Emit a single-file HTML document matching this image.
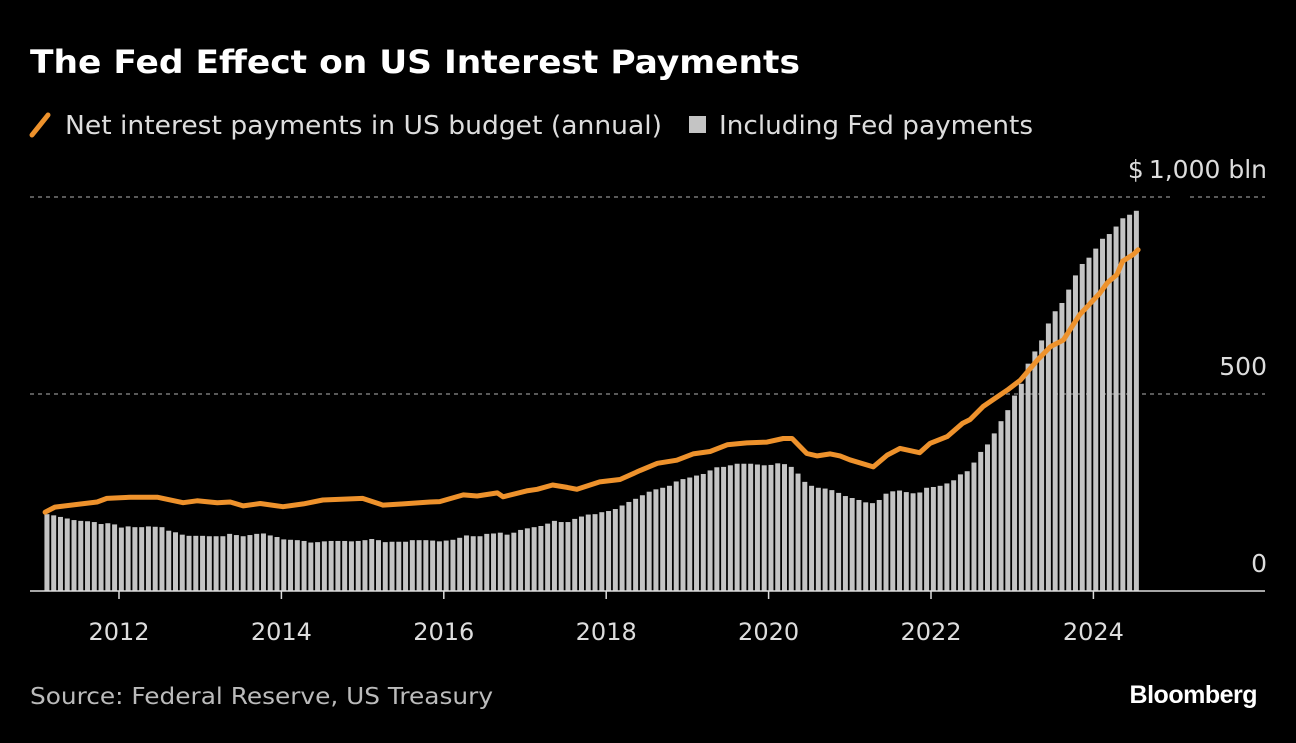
<!DOCTYPE html>
<html><head><meta charset="utf-8"><style>
html,body{margin:0;padding:0;background:#000;}
body{width:1296px;height:738px;overflow:hidden;position:relative;font-family:"Liberation Sans","DejaVu Sans",sans-serif;}
</style></head><body>
<svg id="chart" width="1296" height="738" viewBox="0 0 1296 738" xmlns="http://www.w3.org/2000/svg">
<rect x="0" y="0" width="1296" height="738" fill="#000"/>
<text x="30" y="73" fill="#fff" font-size="32" font-weight="bold" font-family="DejaVu Sans, sans-serif" textLength="770" lengthAdjust="spacingAndGlyphs">The Fed Effect on US Interest Payments</text>
<g>
<g>
<line x1="32" y1="135" x2="48" y2="115" stroke="#ee922c" stroke-width="5" stroke-linecap="round"/>
<text x="65" y="134" fill="#ddd" font-size="26" font-family="DejaVu Sans, sans-serif" textLength="597" lengthAdjust="spacingAndGlyphs">Net interest payments in US budget (annual)</text>
</g>
<g>
<rect x="689" y="116" width="17" height="17" fill="#c4c4c4"/>
<text x="719" y="134" fill="#ddd" font-size="26" font-family="DejaVu Sans, sans-serif" textLength="314" lengthAdjust="spacingAndGlyphs">Including Fed payments</text>
</g>
</g>
<g id="grid"></g>
<g id="bars"></g>
<path id="line" fill="none" stroke="#ee922c" stroke-width="5" stroke-linejoin="round" stroke-linecap="round"/>
<g id="axis"></g>
<g id="yaxis"></g>
<text x="30" y="704" fill="#bbb" font-size="23" font-family="DejaVu Sans, sans-serif" textLength="463" lengthAdjust="spacingAndGlyphs">Source: Federal Reserve, US Treasury</text>
<text x="1257" y="703" text-anchor="end" fill="#fff" font-size="25" font-weight="bold" font-family="Liberation Sans, sans-serif" letter-spacing="-0.5">Bloomberg</text>
</svg>
<script>
const barValues = [195,192,188,184,180,178,177,175,170,172,169,161,164,162,162,164,163,162,153,149,143,140,140,140,139,139,139,145,142,139,142,145,146,141,137,131,130,129,127,123,124,126,127,127,127,126,127,129,132,129,124,125,125,125,129,129,129,128,126,
128,130,135,141,139,139,145,146,148,143,148,155,159,162,165,171,178,175,175,183,189,194,195,200,203,208,217,226,234,243,252,258,262,267,278,284,288,293,297,306,314,315,319,323,323,323,321,319,320,324,322,315,298,277,267,262,260,256,249,241,236,231,
225,223,231,247,253,255,251,248,250,262,264,267,273,281,296,304,326,353,372,400,431,459,496,526,577,608,636,679,710,731,765,801,830,846,869,894,906,925,946,955,965];
const barFirstYear = 2011;
const barFirstMonth = 1; // Feb (0-based)
const lineDates = [2011.09,2011.21,2011.73,2011.85,2012.14,2012.47,2012.79,2012.96,2013.21,2013.37,2013.53,2013.74,2014.02,2014.27,2014.51,2015.00,2015.25,2015.50,2015.83,2015.95,2016.24,2016.41,2016.66,2016.73,2017.02,2017.15,2017.34,2017.52,2017.64,2017.92,2018.17,2018.42,2018.63,2018.87,2019.07,2019.28,2019.49,2019.73,2019.98,2020.18,2020.29,2020.47,2020.60,2020.76,2020.88,2021.00,2021.29,2021.46,2021.62,2021.86,2021.99,2022.20,2022.39,2022.48,2022.64,2022.76,2022.94,2023.10,2023.31,2023.47,2023.63,2023.83,2023.96,2024.08,2024.17,2024.29,2024.36,2024.49,2024.55];
const lineValues = [200,213,226,235,238,238,224,229,224,226,216,222,214,221,231,235,218,221,226,227,244,241,249,239,254,258,269,263,258,277,283,306,324,332,348,354,371,376,378,387,387,349,343,348,343,333,315,345,362,351,375,392,426,435,468,485,510,535,586,620,637,701,730,756,782,803,837,854,866];
const xTickYears = [2012,2014,2016,2018,2020,2022,2024];
const yTicks = [0,500,1000];
const yTickLabels = ["0","500","$\u20091,000 bln"];

const NS = "http://www.w3.org/2000/svg";
function xScale(t){ return 119 + (t - 2012) * 81.2; }
function yScale(v){ return 591 - v * 0.394; }
function mk(tag, attrs, parent){ const e = document.createElementNS(NS, tag); for (const k in attrs) e.setAttribute(k, attrs[k]); parent.appendChild(e); return e; }

const grid = document.getElementById('grid');
yTicks.forEach((v, i) => {
  if (v === 0) return;
  const l = mk('line', {x1:30, x2:1265, y1:yScale(v), y2:yScale(v), stroke:'#777', 'stroke-width':1.5, 'stroke-dasharray':'4,4'}, grid);
  
  
});
const gap = mk('rect', {x:1170, y:yScale(1000)-3, width:18, height:6, fill:'#000'}, grid);



const bars = document.getElementById('bars');
barValues.forEach((v, i) => {
  const t = barFirstYear + (barFirstMonth + i + 0.35) / 12;
  const cx = xScale(t);
  const r = mk('rect', {x:cx - 2.5, y:yScale(v), width:5, height:yScale(0) - yScale(v), fill:'#c4c4c4'}, bars);
  
  
});

document.getElementById('line').setAttribute('d', lineDates.map((d, i) => (i ? 'L' : 'M') + xScale(d).toFixed(1) + ',' + yScale(lineValues[i]).toFixed(1)).join(' '));

const axis = document.getElementById('axis');
mk('line', {x1:30, x2:1265, y1:591, y2:591, stroke:'#ddd', 'stroke-width':1.5}, axis);
xTickYears.forEach(y => {
  const x = xScale(y);
  const tk = mk('line', {x1:x, x2:x, y1:591, y2:599, stroke:'#ddd', 'stroke-width':1.5}, axis);
  
  
  const tx = mk('text', {x:x, y:640, 'text-anchor':'middle', fill:'#ddd', 'font-size':24, 'font-family':'DejaVu Sans, sans-serif'}, axis);
  tx.textContent = String(y);
  
  
});
const yaxis = document.getElementById('yaxis');
yTicks.forEach((v, i) => {
  const tx = mk('text', {x:1267, y:yScale(v) - 19, 'text-anchor':'end', fill:'#ddd', 'font-size':25, 'font-family':'DejaVu Sans, sans-serif'}, yaxis);
  tx.textContent = yTickLabels[i];
  
  
});
</script>
</body></html>
